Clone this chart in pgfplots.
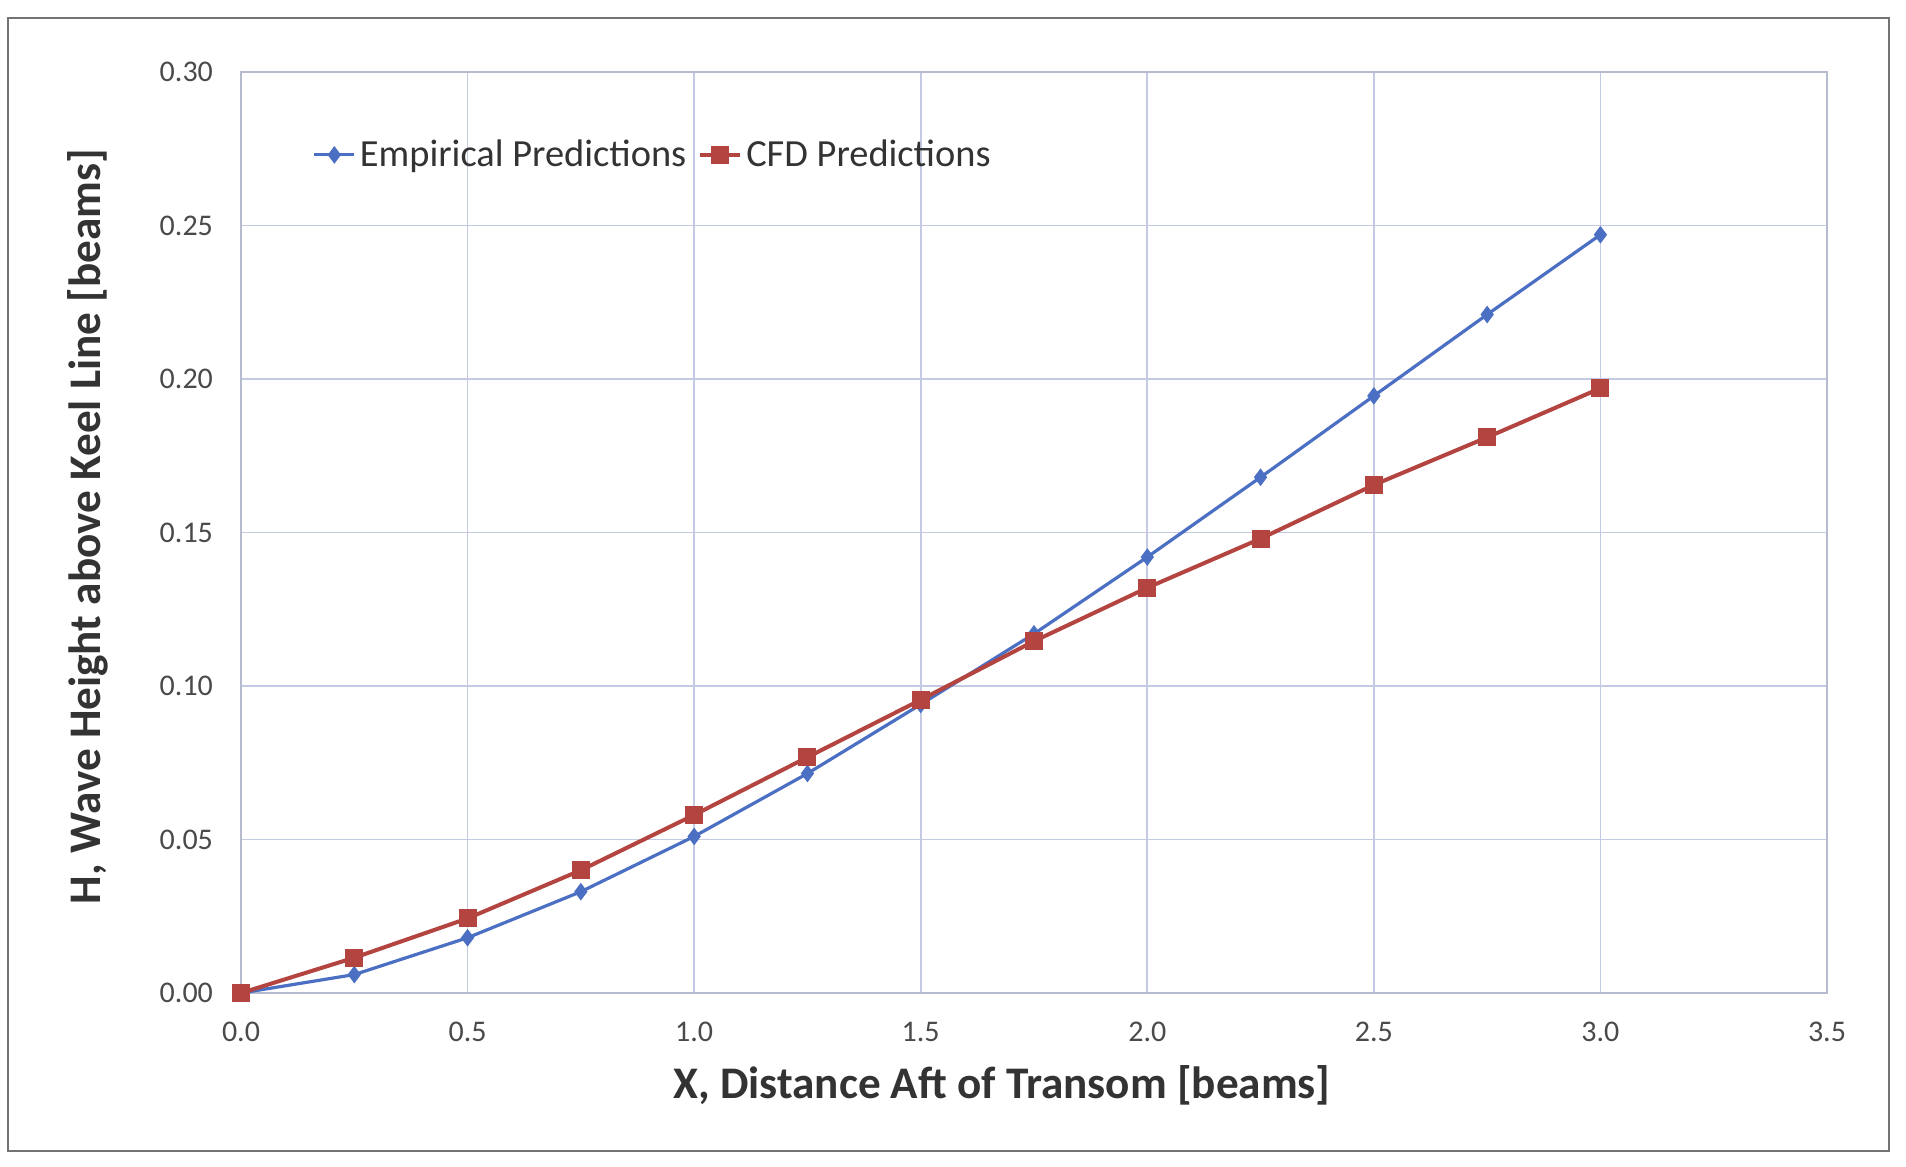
\documentclass[border=0pt]{standalone}
\usepackage{pgfplots}
\pgfplotsset{compat=1.18}
\usepackage{fontspec}
\setmainfont{Carlito}
\definecolor{empblue}{HTML}{4B6FC2}
\definecolor{cfdred}{HTML}{B3443F}
\definecolor{gridc}{HTML}{C5CAE4}
\definecolor{tickc}{HTML}{4A4A4A}
\definecolor{labc}{HTML}{333333}
\pgfplotstableread{
x y
0.00 0.000
0.25 0.006
0.50 0.018
0.75 0.033
1.00 0.051
1.25 0.0715
1.50 0.094
1.75 0.117
2.00 0.142
2.25 0.168
2.50 0.1945
2.75 0.221
3.00 0.247
}\emp
\pgfplotstableread{
x y
0.00 0.000
0.25 0.0115
0.50 0.0243
0.75 0.040
1.00 0.058
1.25 0.0768
1.50 0.0955
1.75 0.1146
2.00 0.132
2.25 0.148
2.50 0.1655
2.75 0.181
3.00 0.197
}\cfd
\begin{document}
\begin{tikzpicture}[x=1pt,y=1pt]
\path[fill=white] (0,0) rectangle (953,-583.5);
\draw[black!55, line width=1.3pt] (4,-9) rectangle (944.5,-575.5);
\begin{axis}[
  at={(120.5pt,-496.5pt)}, anchor=south west,
  scale only axis, width=793pt, height=460.5pt,
  xmin=0, xmax=3.5, ymin=0, ymax=0.30,
  xtick={0,0.5,1,1.5,2,2.5,3,3.5},
  xticklabels={0.0,0.5,1.0,1.5,2.0,2.5,3.0,3.5},
  ytick={0,0.05,0.1,0.15,0.2,0.25,0.3},
  yticklabels={0.00,0.05,0.10,0.15,0.20,0.25,0.30},
  grid=major,
  major grid style={gridc, line width=0.8pt},
  axis line style={gridc!80!gray, line width=0.8pt},
  tick style={draw=none},
  ticklabel style={font=\fontsize{15}{18}\selectfont, text=tickc},
  xticklabel style={yshift=-11pt},
  yticklabel style={xshift=-10.5pt},
  xlabel={X, Distance Aft of Transom [beams]},
  ylabel={H, Wave Height above Keel Line [beams]},
  label style={font=\bfseries\fontsize{22.6}{27}\selectfont, text=labc},
  xlabel style={yshift=-5pt, xshift=-16pt},
  ylabel style={yshift=19pt, xshift=3pt},
  legend style={at={(0.045,0.91)}, anchor=west, draw=none, fill=none,
    font=\fontsize{19.2}{23}\selectfont, text=labc, legend columns=2,
    /tikz/every even column/.append style={column sep=4pt},
    inner sep=0pt},
  legend cell align=left,
  legend image code/.code={
    \draw[mark repeat=2,mark phase=2,#1] plot coordinates {(0pt,0pt) (10pt,0pt) (20pt,0pt)};
  },
]
\addplot[empblue, line width=1.6pt, mark=diamond*, mark size=3.1pt, mark options={fill=empblue, solid}] table {\emp};
\addlegendentry{Empirical Predictions}
\addplot[cfdred, line width=2pt, mark=square*, mark size=3.5pt, mark options={fill=cfdred, solid}] table {\cfd};
\addlegendentry{CFD Predictions}
\end{axis}
\end{tikzpicture}
\end{document}
